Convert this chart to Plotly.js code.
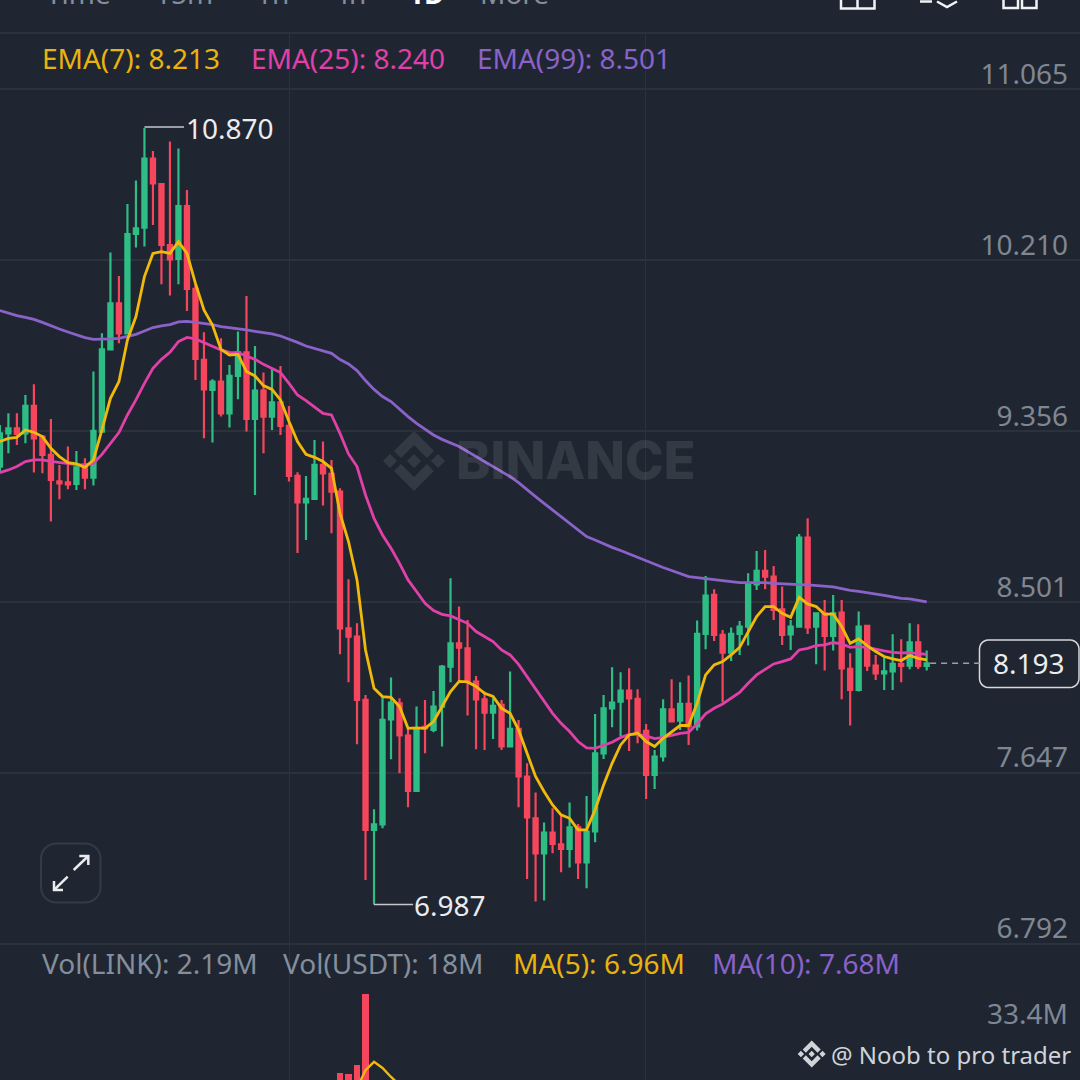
<!DOCTYPE html>
<html><head><meta charset="utf-8">
<script src="https://cdn.plot.ly/plotly-3.0.1.min.js"></script>
<style>html,body{margin:0;padding:0;background:#1F2631;overflow:hidden}#c{width:1080px;height:1080px}</style>
</head><body><div id="c"></div>
<script>
const firstIndex = -1;
const opens = [9.177,
9.343,9.368,9.343,9.480,9.327,9.235,9.103,9.098,9.090,9.185,
9.122,9.352,9.763,9.993,9.843,10.340,10.372,10.717,10.590,10.285,
10.215,10.480,10.065,9.710,9.560,9.602,9.443,9.630,9.748,9.415,
9.557,9.427,9.498,9.380,9.130,8.998,9.015,9.185,9.140,9.052,
8.368,8.327,8.010,7.360,7.388,7.913,7.993,7.832,7.555,7.875,
7.860,7.977,8.177,8.293,8.268,8.102,8.013,7.947,7.985,7.777,
7.865,7.627,7.418,7.243,7.347,7.288,7.265,7.373,7.197,7.352,
7.743,7.968,8.002,8.057,8.015,7.855,7.635,7.727,7.963,7.907,
7.990,7.877,8.340,8.535,8.335,8.247,8.340,8.377,8.588,8.655,
8.627,8.463,8.338,8.377,8.822,8.377,8.443,8.330,8.447,8.165,
8.060,8.380,8.182,8.143,8.153,8.190,8.182,8.298,8.180];
const closes = [9.343,
9.368,9.340,9.480,9.318,9.235,9.110,9.093,9.088,9.173,9.122,
9.355,9.763,9.993,9.843,10.340,10.368,10.717,10.593,10.285,10.213,
10.480,10.065,9.715,9.563,9.602,9.443,9.630,9.748,9.415,9.557,
9.427,9.498,9.380,9.130,8.998,9.015,9.185,9.143,9.052,8.368,
8.327,8.010,7.360,7.388,7.910,7.997,7.832,7.555,7.868,7.867,
7.977,8.177,8.293,8.272,8.102,8.013,7.947,7.980,7.777,7.865,
7.627,7.422,7.243,7.347,7.290,7.265,7.373,7.197,7.352,7.743,
7.968,7.997,8.057,8.018,7.847,7.635,7.727,7.963,7.902,7.990,
7.877,8.340,8.532,8.335,8.247,8.340,8.377,8.588,8.655,8.627,
8.460,8.335,8.377,8.822,8.373,8.443,8.330,8.443,8.168,8.060,
8.377,8.182,8.143,8.153,8.190,8.180,8.298,8.180,8.193];
const highs = [9.385,
9.443,9.443,9.535,9.588,9.335,9.415,9.185,9.277,9.255,9.218,
9.652,9.843,10.248,10.130,10.490,10.607,10.870,10.755,10.593,10.802,
10.768,10.560,10.093,9.848,9.613,9.818,9.685,9.852,10.030,9.780,
9.647,9.668,9.680,9.480,9.148,9.130,9.310,9.302,9.210,9.068,
8.613,8.393,8.035,7.463,8.027,8.122,8.018,7.868,7.977,8.010,
8.055,8.185,8.618,8.477,8.410,8.130,8.052,8.018,8.010,8.152,
7.910,7.693,7.547,7.397,7.468,7.435,7.497,7.390,7.530,7.940,
8.035,8.173,8.148,8.168,8.063,7.890,7.760,8.013,8.113,8.098,
8.132,8.407,8.630,8.563,8.360,8.372,8.405,8.643,8.755,8.760,
8.680,8.577,8.410,8.840,8.918,8.448,8.510,8.535,8.510,8.243,
8.452,8.385,8.235,8.227,8.338,8.313,8.393,8.388,8.257];
const lows = [9.143,
9.243,9.285,9.293,9.147,9.143,8.902,9.013,9.063,9.060,9.063,
9.082,9.352,9.757,9.793,9.843,10.273,10.277,10.385,10.088,10.032,
10.088,9.955,9.610,9.318,9.297,9.427,9.372,9.513,9.352,9.035,
9.243,9.360,9.335,9.102,8.745,8.810,9.015,8.982,8.843,8.238,
8.098,7.788,7.110,6.987,7.368,7.713,7.643,7.473,7.555,7.743,
7.848,7.777,8.098,8.102,7.932,7.763,7.760,7.815,7.760,7.777,
7.473,7.115,7.002,7.007,7.243,7.148,7.172,7.115,7.068,7.298,
7.715,7.873,7.830,7.755,7.793,7.515,7.565,7.702,7.897,7.860,
7.785,7.857,8.263,8.305,7.998,8.205,8.235,8.282,8.560,8.563,
8.410,8.285,8.260,8.373,8.340,8.188,8.157,8.257,8.013,7.882,
8.052,8.155,8.110,8.060,8.060,8.098,8.163,8.165,8.157];
const ema7 = [9.302,
9.318,9.323,9.360,9.348,9.327,9.268,9.227,9.197,9.190,9.173,
9.210,9.360,9.518,9.602,9.810,9.927,10.127,10.243,10.252,10.243,
10.302,10.243,10.093,9.960,9.885,9.763,9.735,9.738,9.652,9.630,
9.582,9.563,9.510,9.402,9.302,9.238,9.223,9.202,9.168,8.943,
8.802,8.610,8.260,8.068,8.027,8.023,7.977,7.868,7.870,7.868,
7.902,7.977,8.052,8.103,8.100,8.077,8.043,8.027,7.968,7.943,
7.860,7.743,7.627,7.552,7.485,7.435,7.418,7.360,7.360,7.460,
7.585,7.693,7.785,7.835,7.845,7.802,7.777,7.818,7.848,7.882,
7.882,7.993,8.135,8.185,8.202,8.235,8.273,8.352,8.427,8.477,
8.477,8.443,8.423,8.523,8.490,8.477,8.438,8.440,8.377,8.293,
8.315,8.282,8.252,8.227,8.215,8.207,8.232,8.218,8.210];
const ema25 = [9.147,
9.160,9.177,9.202,9.210,9.210,9.203,9.197,9.190,9.187,9.185,
9.193,9.238,9.293,9.347,9.435,9.510,9.593,9.668,9.713,9.748,
9.802,9.823,9.815,9.797,9.777,9.760,9.748,9.747,9.730,9.713,
9.688,9.668,9.647,9.593,9.535,9.507,9.477,9.443,9.435,9.343,
9.240,9.177,9.035,8.918,8.835,8.768,8.693,8.610,8.552,8.493,
8.457,8.438,8.430,8.413,8.393,8.352,8.327,8.302,8.260,8.235,
8.188,8.127,8.060,8.002,7.943,7.893,7.852,7.802,7.770,7.768,
7.785,7.798,7.822,7.838,7.838,7.830,7.817,7.823,7.833,7.843,
7.848,7.890,7.940,7.968,7.990,8.018,8.047,8.093,8.135,8.163,
8.190,8.202,8.215,8.260,8.268,8.282,8.285,8.297,8.290,8.273,
8.277,8.273,8.263,8.255,8.248,8.245,8.247,8.243,8.238];
const ema99 = [9.957,
9.943,9.932,9.923,9.913,9.898,9.880,9.865,9.850,9.835,9.822,
9.813,9.813,9.815,9.818,9.827,9.838,9.855,9.872,9.880,9.887,
9.900,9.903,9.898,9.893,9.887,9.877,9.872,9.868,9.860,9.853,
9.847,9.840,9.830,9.815,9.798,9.780,9.768,9.757,9.743,9.712,
9.690,9.657,9.607,9.563,9.527,9.502,9.463,9.427,9.393,9.363,
9.335,9.313,9.293,9.277,9.252,9.227,9.202,9.177,9.152,9.127,
9.097,9.060,9.027,8.993,8.960,8.927,8.893,8.860,8.827,8.810,
8.790,8.773,8.757,8.740,8.723,8.705,8.685,8.672,8.657,8.643,
8.627,8.622,8.618,8.613,8.607,8.602,8.597,8.597,8.597,8.597,
8.593,8.590,8.587,8.587,8.585,8.582,8.578,8.575,8.567,8.558,
8.553,8.547,8.540,8.533,8.525,8.518,8.515,8.508,8.500];
const priceTicks = [11.065,10.210,9.356,8.501,7.647,6.792];
const priceTickText = ["11.065","10.210","9.356","8.501","7.647","6.792"];
const volIndex = [39,40,41,42];
const volValues = [17.8e6,17.5e6,19.9e6,38.7e6];
const ma5Index = [41,42,43,44,45,46];
const ma5Values = [13.8e6,18.5e6,20.7e6,19.1e6,16.7e6,14.6e6];
const volTicks = [33.4e6];
const volTickText = ["33.4M"];
const gridX = [33.06,74.93];
const headerLabels = [["Time",46,"#848E9C"],["15m",155,"#848E9C"],["1h",256,"#848E9C"],["4h",333,"#848E9C"],["1D",408,"#FFFFFF"],["More",480,"#848E9C"]];
const emaLabels = [["EMA(7): 8.213",42,"#E9B30F"],["EMA(25): 8.240",251,"#E040A8"],["EMA(99): 8.501",477,"#8A62C8"]];
const volLabels = [["Vol(LINK): 2.19M",42,"#848E9C"],["Vol(USDT): 18M",283,"#848E9C"],["MA(5): 6.96M",513,"#E9B30F"],["MA(10): 7.68M",712,"#8A62C8"]];

const idx = opens.map((_, i) => firstIndex + i);
const BG = "#1F2631", GRID = "#2C323C", FONT = "'Noto Sans', Inter, sans-serif", FS = 28;
const GREEN = "#2EBD85", RED = "#F6465D";
const px = v => v / 1080, py = v => 1 - v / 1080;
const P = (pts, close) => pts.map((p, i) => (i ? "L" : "M") + px(p[0]) + "," + py(p[1])).join(" ") + (close ? " Z" : "");
const pathShape = (pts, close, fill, color, w) => ({type:"path", xref:"paper", yref:"paper", path:P(pts, close), fillcolor:fill||"rgba(0,0,0,0)", line:{color:color||"rgba(0,0,0,0)", width:w||0}, layer:"below"});
function rounded(x0,y0,x1,y1,r){const k=[];const n=6;const c=[[x1-r,y0+r,-90],[x1-r,y1-r,0],[x0+r,y1-r,90],[x0+r,y0+r,180]];
  c.forEach(q=>{for(let i=0;i<=n;i++){const a=(q[2]+90*i/n)*Math.PI/180;k.push([q[0]+r*Math.cos(a),q[1]+r*Math.sin(a)]);}});return k;}
function logo(cx,cy,s,color){const f=s/30,T=(a)=>a.map(p=>[cx+p[0]*f,cy+p[1]*f]);
  return [[[0,-30],[20,-10],[13,-3],[0,-16],[-13,-3],[-20,-10]],[[0,30],[20,10],[13,3],[0,16],[-13,3],[-20,10]],[[0,-7],[7,0],[0,7],[-7,0]],[[-24,-7],[-17,0],[-24,7],[-31,0]],[[24,-7],[31,0],[24,7],[17,0]]].map(a=>pathShape(T(a),true,color));}

const traces = [
 {type:"candlestick", x:idx, open:opens, high:highs, low:lows, close:closes, xaxis:"x", yaxis:"y", whiskerwidth:0,
  increasing:{line:{color:GREEN,width:2.2},fillcolor:GREEN}, decreasing:{line:{color:RED,width:2.2},fillcolor:RED}, hoverinfo:"skip", showlegend:false},
 {type:"scatter", mode:"lines", x:idx, y:ema99, line:{color:"#8A62C8",width:2.8}, xaxis:"x", yaxis:"y", hoverinfo:"skip", showlegend:false},
 {type:"scatter", mode:"lines", x:idx, y:ema25, line:{color:"#E040A8",width:2.8}, xaxis:"x", yaxis:"y", hoverinfo:"skip", showlegend:false},
 {type:"scatter", mode:"lines", x:idx, y:ema7, line:{color:"#F0B90B",width:2.8}, xaxis:"x", yaxis:"y", hoverinfo:"skip", showlegend:false},
 {type:"bar", x:volIndex, y:volValues, width:0.72, marker:{color:RED}, xaxis:"x", yaxis:"y2", hoverinfo:"skip", showlegend:false},
 {type:"scatter", mode:"lines", x:ma5Index, y:ma5Values, line:{color:"#F0B90B",width:2.4}, xaxis:"x", yaxis:"y2", hoverinfo:"skip", showlegend:false}
];
const A = (text,x,y,color,size,anchor,extra) => Object.assign({text,xref:"paper",yref:"paper",x:px(x-(anchor?0:2)),y:py(y),xanchor:anchor||"left",yanchor:"middle",showarrow:false,font:{family:FONT,size:size||FS,color}},extra||{});
const annotations = [
 ...headerLabels.map(l=>A(l[0],l[1],-7,l[2],FS,undefined,l[0]==="1D"?{font:{family:FONT,size:FS,color:l[2],weight:700}}:{})),
 ...emaLabels.map(l=>A(l[0],l[1],58,l[2],FS)),
 ...volLabels.map(l=>A(l[0],l[1],963,l[2],FS)),
 A("BINANCE",456,461,"rgba(255,255,255,0.095)",52,undefined,{font:{family:"Inter, sans-serif",size:52,color:"rgba(255,255,255,0.095)",weight:800}}),
 A("10.870",186,128,"#EAECEF",FS),
 A("6.987",414,905,"#EAECEF",FS),
 A("8.193",1029,663,"#EAECEF",FS,"center"),
 A("@ Noob to pro trader",831,1054,"#D0D4D9",24,undefined,{font:{family:"'Noto Sans', sans-serif",size:24,color:"#D0D4D9"}})
];
const shapes = [
 {type:"line",xref:"paper",yref:"paper",x0:0,x1:1,y0:py(33),y1:py(33),line:{color:GRID,width:2},layer:"below"},
 ...logo(414,461,30,"#343A44"),
 ...logo(811.7,1054,13.5,"#D0D4D9"),
 {type:"line",xref:"x",yref:"y",x0:16,x1:20.65,y0:10.875,y1:10.875,line:{color:"#C4C8CD",width:1.5}},
 {type:"line",xref:"x",yref:"y",x0:43,x1:47.6,y0:6.987,y1:6.987,line:{color:"#C4C8CD",width:1.5}},
 {type:"line",xref:"x",yref:"y",x0:108.4,x1:114.3,y0:8.193,y1:8.193,line:{color:"#9AA0A8",width:1.5,dash:"6px,5px"}},
 pathShape(rounded(979.5,640,1079,687.5,9),true,BG,"#D5D8DC",1.5),
 pathShape(rounded(41,843.5,100.5,902.5,15),true,BG,"#353B45",2),
 pathShape([[73.7,870],[88.3,856]],false,null,"#E8EAED",2.5),
 pathShape([[79.3,856],[88.3,856],[88.3,865]],false,null,"#E8EAED",2.5),
 pathShape([[67.7,876.7],[54,890]],false,null,"#E8EAED",2.5),
 pathShape([[54,881],[54,890],[63,890]],false,null,"#E8EAED",2.5),
 pathShape([[841,-3],[841,8.5],[874.5,8.5],[874.5,-3]],false,null,"#F2F3F5",2.5),
 pathShape([[857.5,-3],[857.5,8.5]],false,null,"#F2F3F5",2.5),
 pathShape([[920,1.5],[932,1.5]],false,null,"#F2F3F5",2.5),
 pathShape([[937,1.5],[947,7],[957,1.5]],false,null,"#F2F3F5",2.5),
 pathShape([[1003.5,-3],[1003.5,8],[1018,8],[1018,-3]],false,null,"#F2F3F5",2.5),
 pathShape([[1022,-3],[1022,8],[1036.5,8],[1036.5,-3]],false,null,"#F2F3F5",2.5)
];
const layout = {
 width:1080,height:1080,margin:{l:0,r:0,t:0,b:0,pad:0},paper_bgcolor:BG,plot_bgcolor:BG,showlegend:false,
 font:{family:FONT,color:"#848E9C"},bargap:0,
 xaxis:{domain:[0,1],range:[-0.988,126.03],rangeslider:{visible:false},tickmode:"array",tickvals:gridX,ticktext:["",""],showticklabels:false,ticks:"",showgrid:true,gridcolor:GRID,gridwidth:1.5,zeroline:false,showline:false,fixedrange:true},
 yaxis:{domain:[py(950),py(33)],range:[6.7595,11.345],side:"right",tickmode:"array",tickvals:priceTicks,ticktext:priceTickText,ticklabelposition:"inside",ticklabelstandoff:9,ticklabelshift:-15,tickfont:{family:FONT,size:FS,color:"#7F8793"},ticks:"",showgrid:true,gridcolor:GRID,gridwidth:2,zeroline:false,showline:false,fixedrange:true},
 yaxis2:{domain:[0,py(950)],range:[15.9e6,50.35e6],side:"right",tickmode:"array",tickvals:volTicks,ticktext:volTickText,ticklabelposition:"inside",ticklabelstandoff:9,tickfont:{family:FONT,size:FS,color:"#7F8793"},ticks:"",showgrid:false,zeroline:false,showline:false,fixedrange:true},
 annotations,shapes
};
Plotly.newPlot("c",traces,layout,{displayModeBar:false,staticPlot:true});
</script></body></html>
